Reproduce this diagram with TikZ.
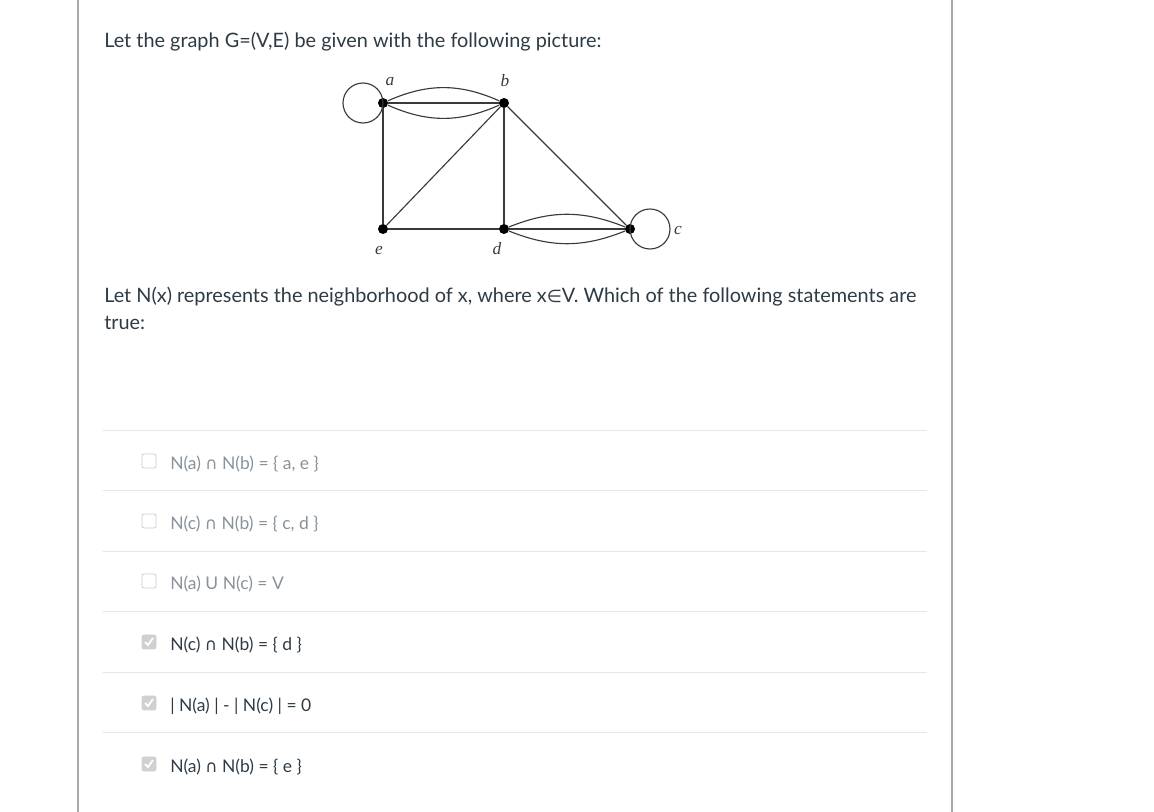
\documentclass[tikz,border=0pt]{standalone}
\usepackage{fontspec}
\setmainfont{Lato}
\newfontfamily\symfont{DejaVu Sans}
\newfontfamily\graphfont{Liberation Serif}
\usepackage{tikz}
\usetikzlibrary{calc}

\definecolor{canvastext}{HTML}{2D3B45}
\definecolor{fainttext}{HTML}{87929A}
\definecolor{rulegray}{HTML}{E6E6E6}
\definecolor{framegray}{HTML}{A9A9A9}
\definecolor{boxgray}{HTML}{C9CDD0}
\definecolor{tickgray}{HTML}{D0D0D0}
\definecolor{edgegray}{HTML}{3A3A3A}

\begin{document}
\begin{tikzpicture}[
            x=0.75pt, y=-0.75pt,          % pixel grid, y downward
            txt/.style={anchor=base west, inner sep=0pt, text=canvastext,
                        font=\fontsize{14.9}{18}\selectfont},
            opt/.style={anchor=base west, inner sep=0pt, text=fainttext,
                        font=\fontsize{13.1}{15}\selectfont},
            optdone/.style={opt, text=canvastext},
            vertex/.style={circle, fill=black, inner sep=0pt, minimum size=7.5pt},
            vlabel/.style={inner sep=0pt, text=edgegray,
                           font=\graphfont\itshape\fontsize{13}{15}\selectfont},
            edge/.style={draw=edgegray, line width=0.85pt},
            box/.style={draw=boxgray, fill=white, rounded corners=1.5pt, line width=0.6pt,
                        minimum width=10.5pt, minimum height=10.5pt, inner sep=0pt},
            boxdone/.style={box, draw=tickgray, fill=tickgray},
            tick/.style={white, line width=1.4pt}
        ]
            \useasboundingbox (0,0) rectangle (1154,812);

            % frame of the page
            \draw[framegray, line width=1.1pt] (78,0) -- (78,812);
            \draw[framegray, line width=1.1pt] (952,0) -- (952,812);

            % question text
            \node[txt] (title) at (104,48) {Let the graph G=(V,E) be given with the following picture:};
            \node[txt] (ask1) at (104,303) {Let N(x) represents the neighborhood of x, where x{\symfont\fontsize{13}{15}\selectfont ∈}V. Which of the following statements are};
            \node[txt] (ask2) at (104,330) {true:};

            % vertices
            \node[vertex] (a) at (383,103) {};
            \node[vertex] (b) at (504,103) {};
            \node[vertex] (e) at (383,229) {};
            \node[vertex] (d) at (504,229) {};
            \node[vertex] (c) at (630,229) {};
            \node[vlabel] (la) at (390,82) {a};
            \node[vlabel] (lb) at (505,81) {b};
            \node[vlabel] (le) at (379,251) {e};
            \node[vlabel] (ld) at (497,249) {d};
            \node[vlabel] (lc) at (678,231) {c};

            % edges
            \draw[edge] (a) -- (b);
            \draw[edge] (a) to[bend left=24] (b);
            \draw[edge] (a) to[bend right=24] (b);
            \draw[edge] (a) -- (e);
            \draw[edge] (e) -- (b);
            \draw[edge] (b) -- (d);
            \draw[edge] (e) -- (d);
            \draw[edge] (b) -- (c);
            \draw[edge] (d) -- (c);
            \draw[edge] (d) to[bend left=22] (c);
            \draw[edge] (d) to[bend right=22] (c);
            \draw[edge] (a.center) arc[start angle=0, delta angle=360, radius=20];
            \draw[edge] (c.center) arc[start angle=180, delta angle=360, radius=20];

            % answer rows
            \foreach \y in {431,491,552,612,673,733}
                \draw[rulegray, line width=0.75pt] (103,\y) -- (927,\y);

            \node[box] (cb1) at (149,461) {};
            \node[box] (cb2) at (149,521) {};
            \node[box] (cb3) at (149,581) {};
            \node[boxdone] (cb4) at (149,642) {};
            \node[boxdone] (cb5) at (149,703) {};
            \node[boxdone] (cb6) at (149,764) {};
            \draw[tick] ([shift={(-4,0)}]cb4.center) -- ++(3,3) -- ++(5,-7);
            \draw[tick] ([shift={(-4,0)}]cb5.center) -- ++(3,3) -- ++(5,-7);
            \draw[tick] ([shift={(-4,0)}]cb6.center) -- ++(3,3) -- ++(5,-7);

            \node[opt] (ans1) at (170,470) {N(a) {\symfont\fontsize{12.5}{15}\selectfont ∩} N(b) = \{ a, e \}};
            \node[opt] (ans2) at (170,530) {N(c) {\symfont\fontsize{12.5}{15}\selectfont ∩} N(b) = \{ c, d \}};
            \node[opt] (ans3) at (170,590) {N(a) U N(c) = V};
            \node[optdone] (ans4) at (170,651) {N(c) {\symfont\fontsize{12.5}{15}\selectfont ∩} N(b) = \{ d \}};
            \node[optdone] (ans5) at (170,712) {| N(a) | - | N(c) | = 0};
            \node[optdone] (ans6) at (170,773) {N(a) {\symfont\fontsize{12.5}{15}\selectfont ∩} N(b) = \{ e \}};
        \end{tikzpicture}
\end{document}
